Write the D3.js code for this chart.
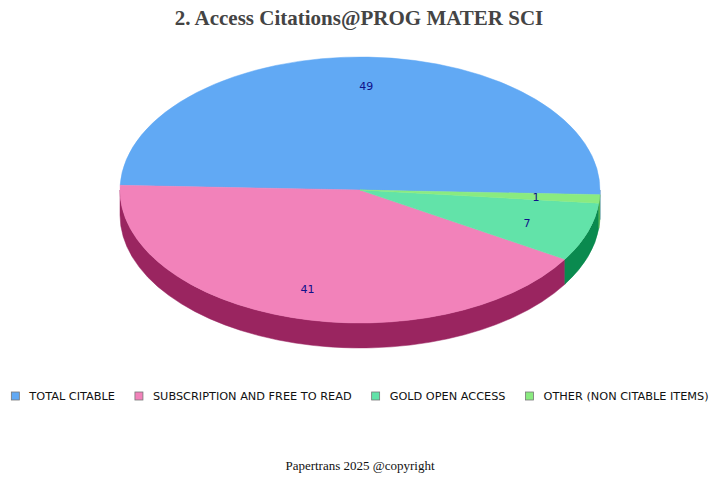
<!DOCTYPE html>
<html>
<head>
<meta charset="utf-8">
<script src="https://cdn.jsdelivr.net/npm/d3@7"></script>
<style>
  body { margin: 0; background: #fff; }
  svg { display: block; }
</style>
</head>
<body>
<svg width="720" height="480"></svg>
<script>
// data
const categories = ['TOTAL CITABLE', 'SUBSCRIPTION AND FREE TO READ', 'GOLD OPEN ACCESS', 'OTHER (NON CITABLE ITEMS)'];
const values = [49, 41, 7, 1];
const topColors = ['#61a9f4', '#f282ba', '#62e3a9', '#8aeb80'];
const sideColors = ['#2f6fb0', '#9a2560', '#0a8a4f', '#4fb047'];

//Dimensions layout
const svg = d3.select('svg');
const cx = 360, cy = 190;
const rx = 240, ry = 133;
const depth = 25;
const t0 = 2 * Math.PI / 180; // start a bit below the right edge

// pie angles -> screen ellipse angles (going counterclockwise)
const pie = d3.pie().sort(null).value(d => d.v);
const arcs = pie(values.map((v, i) => ({v: v, i: i})));
arcs.forEach(a => {
    a.ta = t0 - a.startAngle;
    a.tb = t0 - a.endAngle;
});

const pt = (t, dy) => [cx + rx * Math.cos(t), cy + (dy || 0) + ry * Math.sin(t)];

//Side walls: only the front half (sin t > 0) is visible
const TWO = 2 * Math.PI;
function sidePieces(a) {
    const pieces = [];
    for (let k = -2; k <= 2; k++) {
        const lo = Math.max(a.tb + k * TWO, 0);
        const hi = Math.min(a.ta + k * TWO, Math.PI);
        if (hi > lo) pieces.push([lo, hi]);
    }
    return pieces;
}
function sidePath(lo, hi) {
    const p1 = pt(lo), p2 = pt(hi), p3 = pt(hi, depth), p4 = pt(lo, depth);
    return 'M' + p1 + ' A' + rx + ',' + ry + ' 0 0 1 ' + p2 +
        ' L' + p3 + ' A' + rx + ',' + ry + ' 0 0 0 ' + p4 + ' Z';
}
const sides = svg.append('g');
arcs.forEach(a => {
    sidePieces(a).forEach(p => {
        sides.append('path')
            .attr('d', sidePath(p[0], p[1]))
            .attr('fill', sideColors[a.data.i])
            .attr('stroke', sideColors[a.data.i])
            .attr('stroke-width', 0.5);
    });
});

//Top faces
const tops = svg.append('g');
tops.selectAll('path')
    .data(arcs)
    .join('path')
    .attr('d', a => {
        const large = (a.endAngle - a.startAngle) > Math.PI ? 1 : 0;
        return 'M' + cx + ',' + cy + ' L' + pt(a.ta) +
            ' A' + rx + ',' + ry + ' 0 ' + large + ' 0 ' + pt(a.tb) + ' Z';
    })
    .attr('fill', a => topColors[a.data.i])
    .attr('stroke', a => topColors[a.data.i])
    .attr('stroke-width', 0.5);

//Labels
const lf = 0.76;
svg.append('g').selectAll('text')
    .data(arcs)
    .join('text')
    .attr('x', a => { const t = (a.ta + a.tb) / 2; return cx + rx * lf * Math.cos(t) - (a.data.v < 10 ? 6 : 0); })
    .attr('y', a => { const t = (a.ta + a.tb) / 2; return cy + ry * 0.78 * Math.sin(t) + 4; })
    .attr('text-anchor', 'middle')
    .attr('font-family', 'DejaVu Sans, sans-serif')
    .attr('font-size', 11)
    .attr('fill', '#10108a')
    .text(a => a.data.v);

//Title
svg.append('text')
    .attr('x', 359).attr('y', 25)
    .attr('text-anchor', 'middle')
    .attr('font-family', 'Liberation Serif, Times New Roman, serif')
    .attr('font-weight', 'bold')
    .attr('font-size', 21)
    .attr('fill', '#444')
    .text('2. Access Citations@PROG MATER SCI');

//Legend
const legend = svg.append('g').attr('transform', 'translate(0,396)');
const items = legend.selectAll('g')
    .data(categories)
    .join('g');
items.append('rect')
    .attr('x', 0).attr('y', -4)
    .attr('width', 8).attr('height', 8)
    .attr('fill', (d, i) => topColors[i])
    .attr('stroke', '#777')
    .attr('stroke-width', 0.8);
items.append('text')
    .attr('x', 18).attr('y', 4)
    .attr('font-family', 'DejaVu Sans, sans-serif')
    .attr('font-size', 11.3)
    .attr('fill', '#111')
    .text(d => d);
let xpos = 0;
const widths = [];
items.each(function() {
    const w = d3.select(this).select('text').node().getComputedTextLength() + 18;
    widths.push(w);
});
const gap = 20;
const total = d3.sum(widths) + gap * (widths.length - 1);
xpos = (720 - total) / 2;
items.attr('transform', (d, i) => {
    const x = xpos;
    xpos += widths[i] + gap;
    return 'translate(' + x + ',0)';
});

//Footer
svg.append('text')
    .attr('x', 360).attr('y', 470)
    .attr('text-anchor', 'middle')
    .attr('font-family', 'Liberation Serif, Times New Roman, serif')
    .attr('font-size', 13)
    .attr('fill', '#111')
    .text('Papertrans 2025 @copyright');
</script>
</body>
</html>
